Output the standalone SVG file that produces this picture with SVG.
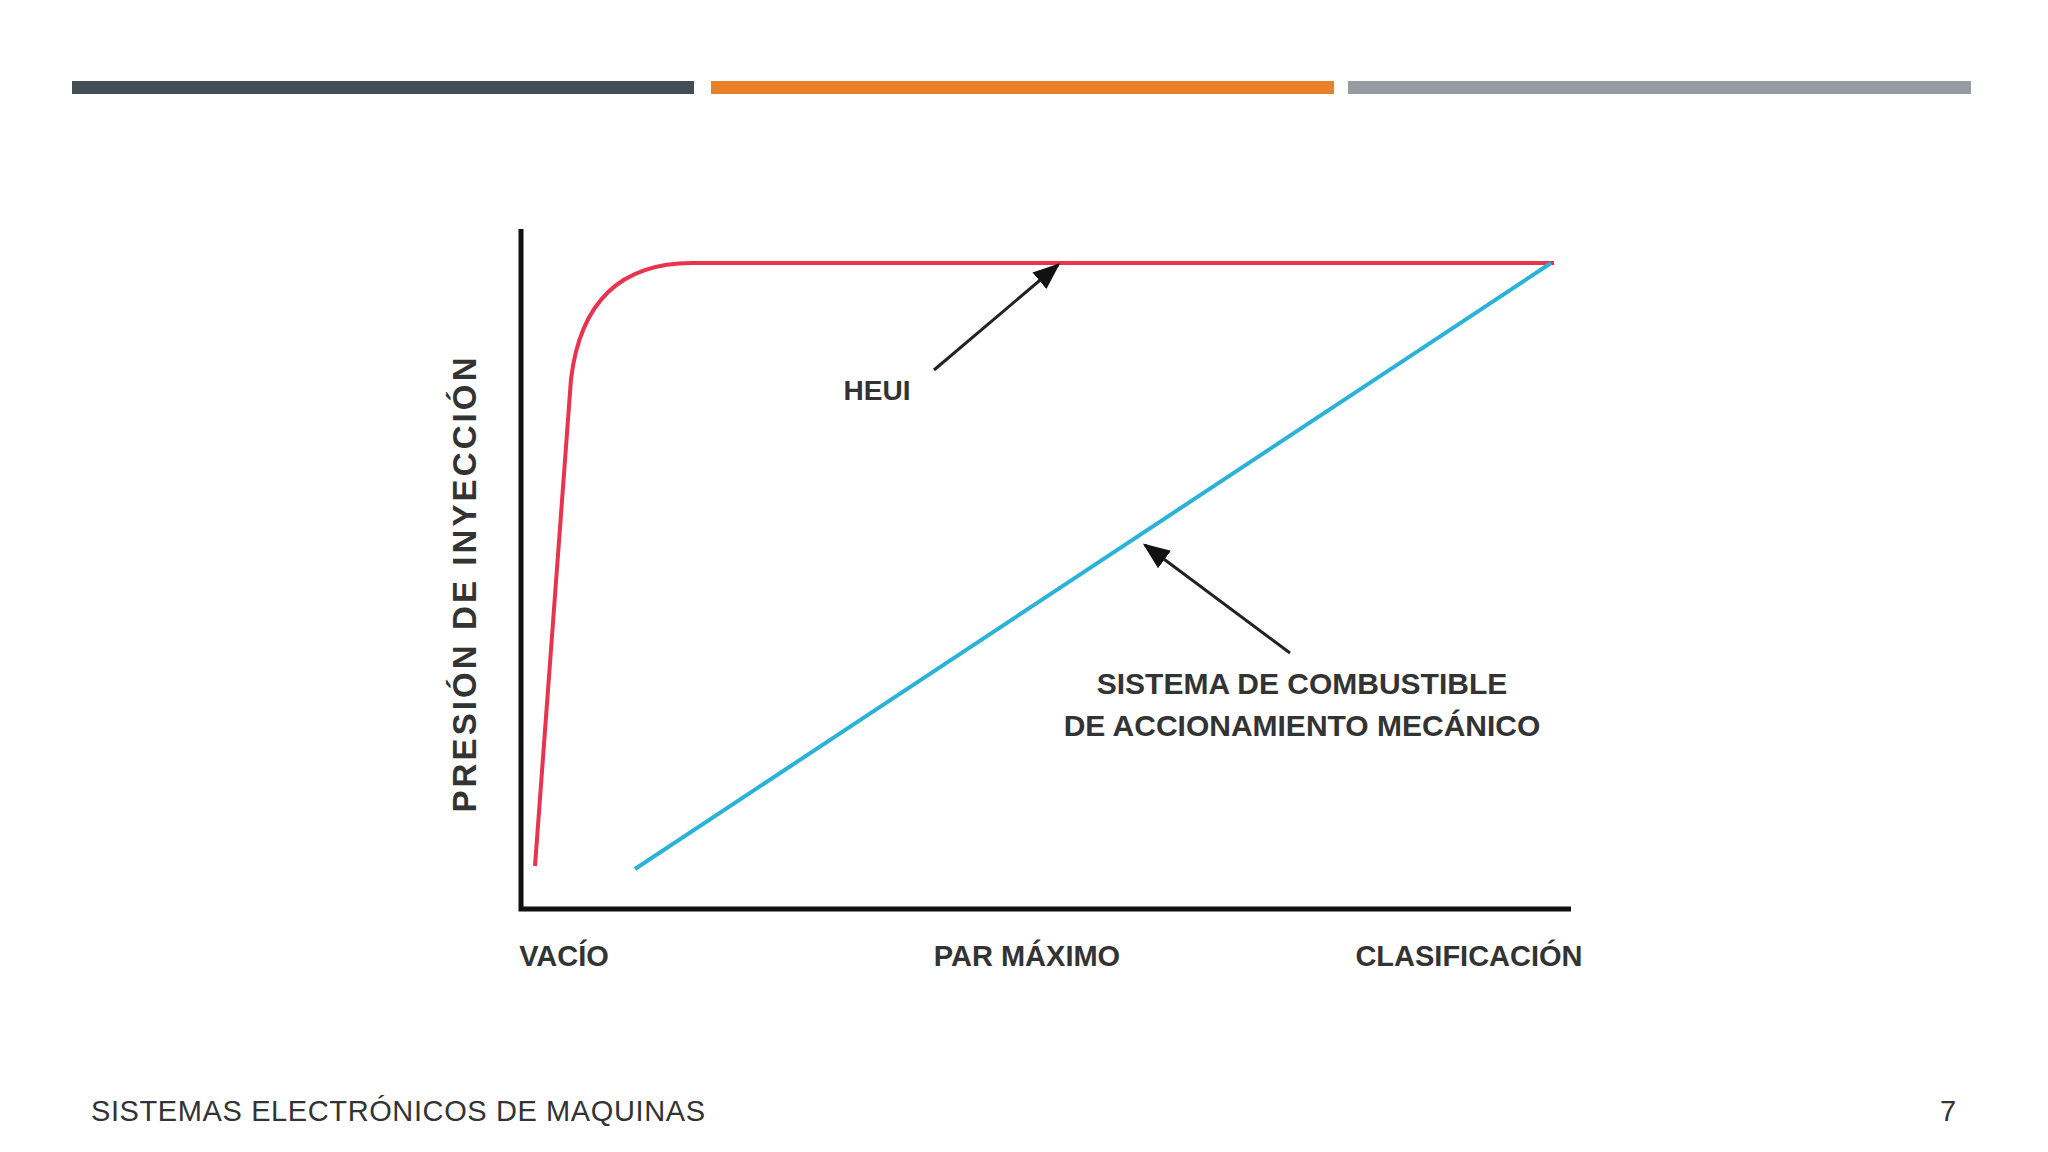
<svg xmlns="http://www.w3.org/2000/svg" width="2048" height="1152" viewBox="0 0 2048 1152">
<defs>
<style>
.lbl{font-family:"Liberation Sans",Arial,sans-serif;font-weight:bold;fill:#333;text-anchor:middle}
.ft{font-family:"Liberation Sans",Arial,sans-serif;fill:#333}
</style>
<marker id="ah2" viewBox="0 0 10 10" refX="9" refY="5" markerWidth="9" markerHeight="9" orient="auto"><path d="M0,1L10,5L0,9z" fill="#111"/></marker>
</defs>
<rect width="2048" height="1152" fill="#fff"/>
<g id="bars">
<rect x="72" y="81" width="622" height="13" fill="#434d55"/>
<rect x="711" y="81" width="623" height="13" fill="#e8812a"/>
<rect x="1348" y="81" width="623" height="13" fill="#979ca2"/>
</g>
<g id="axes" fill="none" stroke="#111" stroke-width="5">
<path d="M521,229V909H1571"/>
</g>
<g id="curves" fill="none" stroke-width="4">
<path id="heui" d="M535,866L571,379Q585,263 692,263H1554" stroke="#e8344c"/>
<path id="mec" d="M635,869L1551,263" stroke="#2ab2d8"/>
</g>
<g id="connectors" stroke="#222" stroke-width="3">
<line x1="934" y1="370" x2="1058" y2="265" marker-end="url(#ah2)"/>
<line x1="1290" y1="653" x2="1145" y2="545" marker-end="url(#ah2)"/>
</g>
<g id="labels">
<text class="lbl" x="877" y="400" font-size="28">HEUI</text>
<text class="lbl" x="1302" y="694" font-size="30">SISTEMA DE COMBUSTIBLE</text>
<text class="lbl" x="1302" y="736" font-size="30">DE ACCIONAMIENTO MECÁNICO</text>
<text class="lbl" x="0" y="0" font-size="33" transform="translate(476,585) rotate(-90)" textLength="455">PRESIÓN DE INYECCIÓN</text>
<text class="lbl" x="564" y="966" font-size="29">VACÍO</text>
<text class="lbl" x="1027" y="966" font-size="29">PAR MÁXIMO</text>
<text class="lbl" x="1469" y="966" font-size="29">CLASIFICACIÓN</text>
</g>
<g id="footer">
<text class="ft" x="91" y="1121" font-size="29" textLength="614">SISTEMAS ELECTRÓNICOS DE MAQUINAS</text>
<text class="ft" x="1940" y="1121" font-size="29">7</text>
</g>
</svg>
